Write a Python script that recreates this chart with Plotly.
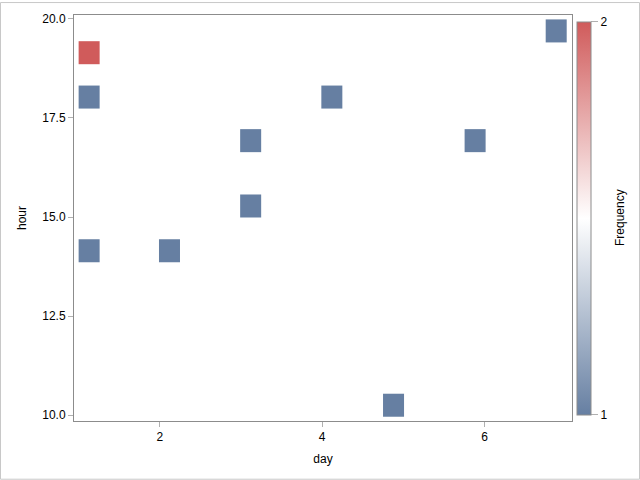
import plotly.graph_objects as go

# Data (bin centers)
days = [1.13, 1.13, 1.13, 2.12, 3.12, 3.12, 4.12, 4.88, 5.885, 6.884]
hours = [19.15, 18.03, 14.15, 14.15, 16.93, 15.28, 18.03, 10.25, 16.93, 19.70]
freq = [2, 1, 1, 1, 1, 1, 1, 1, 1, 1]
bin_w = 0.26
bin_h = 0.577

x_ticks = [2, 4, 6]
y_ticks = [10.0, 12.5, 15.0, 17.5, 20.0]

colorscale = [[0.0, "#667FA2"], [0.5, "#FFFFFF"], [1.0, "#D05B5B"]]

fig = go.Figure()
for i, (d, h, f) in enumerate(zip(days, hours, freq)):
    fig.add_trace(go.Heatmap(
        x=[d - bin_w / 2, d + bin_w / 2],
        y=[h - bin_h / 2, h + bin_h / 2],
        z=[[f]],
        coloraxis="coloraxis",
        hovertemplate="day=%{x}<br>hour=%{y}<br>Frequency=%{z}<extra></extra>",
    ))

W, H = 640, 480
ml, mr, mt, mb = 74, 68, 13, 59
pw, ph = W - ml - mr, H - mt - mb

font = dict(family="Liberation Sans, Arial, sans-serif", size=12, color="#000000")
axis_common = dict(
    showline=True, linecolor="#8C8C8C", linewidth=1, mirror=True,
    ticks="outside", ticklen=5, tickcolor="#B0B0B0", tickwidth=1,
    showgrid=False, zeroline=False,
    tickfont=dict(family=font["family"], size=12, color="#000000"),
)

fig.update_layout(
    width=W, height=H,
    margin=dict(l=ml, r=mr, t=mt, b=mb, pad=0),
    paper_bgcolor="white", plot_bgcolor="white",
    font=font,
    showlegend=False,
    xaxis=dict(range=[0.943, 7.078], tickvals=x_ticks, ticktext=[str(t) for t in x_ticks],
               title=dict(text="day", font=dict(size=12), standoff=11), **axis_common),
    yaxis=dict(range=[9.85, 20.1], tickvals=y_ticks, ticktext=[f"{t:.1f}" for t in y_ticks],
               title=dict(text="hour", font=dict(size=12), standoff=13), **axis_common),
    coloraxis=dict(
        cmin=1, cmax=2, colorscale=colorscale,
        colorbar=dict(
            thickness=14, len=0.968, lenmode="fraction", y=0.5, yanchor="middle",
            x=1 + 5 / pw, xanchor="left", xpad=0, ypad=0,
            outlinecolor="#8C8C8C", outlinewidth=1,
            tickvals=[1, 2], ticktext=["1", "2"], ticks="outside", ticklen=7,
            tickcolor="#B0B0B0",
            tickfont=dict(family=font["family"], size=12, color="#000000"),
        ),
    ),
    annotations=[dict(
        text="Frequency", textangle=-90, showarrow=False,
        xref="paper", yref="paper", x=1 + (620 - (W - mr)) / pw, y=0.5,
        xanchor="center", yanchor="middle",
        font=dict(family=font["family"], size=12, color="#000000"),
    )],
    shapes=[dict(
        type="rect", xref="paper", yref="paper",
        x0=(-ml + 0.5) / pw, x1=1 + (mr - 0.5) / pw,
        y0=(-mb + 0.5) / ph, y1=1 + (mt - 0.5) / ph,
        line=dict(color="#C8C8C8", width=1), fillcolor="rgba(0,0,0,0)", layer="below",
    )],
)

fig.write_html("out.html")
